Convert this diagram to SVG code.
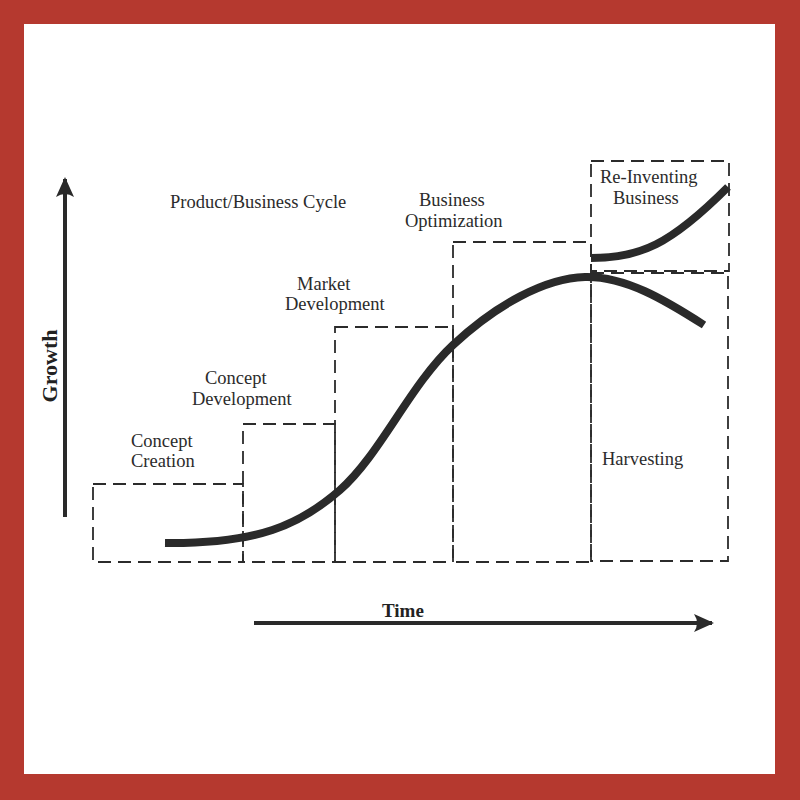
<svg xmlns="http://www.w3.org/2000/svg" width="800" height="800" viewBox="0 0 800 800">
<style>
.box{fill:none;stroke:#2b2b2b;stroke-width:1.8;stroke-dasharray:13 7}
.lbl{font-family:"Liberation Serif","Times New Roman",serif;font-size:18.5px;fill:#2b2b2b}
.ax{font-family:"Liberation Serif","Times New Roman",serif;font-size:19px;font-weight:bold;fill:#222}
.curve{fill:none;stroke:#2a2a2a;stroke-width:8}
.axis{stroke:#2a2a2a;stroke-width:4;fill:none}
</style>
<defs>
<marker id="ah" viewBox="0 0 20 20" refX="18" refY="10" markerWidth="20" markerHeight="20" markerUnits="userSpaceOnUse" orient="auto">
<path d="M0,1 L20,10 L0,19 Q6,10 0,1 Z" fill="#2a2a2a"/>
</marker>
</defs>
<rect x="0" y="0" width="800" height="800" fill="#b5392f"/>
<rect x="24" y="24" width="751" height="750" fill="#ffffff"/>
<g id="concept-creation">
<rect class="box" x="93" y="484" width="150" height="78"/>
<text class="lbl" x="131" y="447">Concept</text>
<text class="lbl" x="131" y="467">Creation</text>
</g>
<g id="concept-development">
<rect class="box" x="243" y="424" width="92" height="138"/>
<text class="lbl" x="205" y="384">Concept</text>
<text class="lbl" x="192" y="405">Development</text>
</g>
<g id="market-development">
<rect class="box" x="335" y="327" width="118" height="235"/>
<text class="lbl" x="297" y="290">Market</text>
<text class="lbl" x="285" y="310">Development</text>
</g>
<g id="business-optimization">
<rect class="box" x="453" y="242" width="138" height="320"/>
<text class="lbl" x="419" y="206">Business</text>
<text class="lbl" x="405" y="227">Optimization</text>
</g>
<g id="re-inventing">
<rect class="box" x="591" y="161" width="138" height="110"/>
<text class="lbl" x="600" y="183">Re-Inventing</text>
<text class="lbl" x="613" y="204">Business</text>
</g>
<g id="harvesting">
<rect class="box" x="591" y="273" width="137" height="288"/>
<text class="lbl" x="602" y="465">Harvesting</text>
</g>
<g id="title">
<text class="lbl" x="170" y="208">Product/Business Cycle</text>
</g>
<g id="connectors">
<path class="curve" d="M165,543 C258,544 300,525 340,490 S410,385 453,345 C496,305 545,278 585,277 C625,276 665,300 704,325"/>
<path class="curve" d="M591,258 C640,258 670,245 728,187"/>
<line class="axis" x1="65" y1="517" x2="65" y2="179" marker-end="url(#ah)"/>
<line class="axis" x1="254" y1="623" x2="712" y2="623" marker-end="url(#ah)"/>
</g>
<g id="axis-labels">
<text class="ax" x="57" y="366" text-anchor="middle" transform="rotate(-90 57 366)" style="font-size:22px">Growth</text>
<text class="ax" x="382" y="617">Time</text>
</g>
</svg>
